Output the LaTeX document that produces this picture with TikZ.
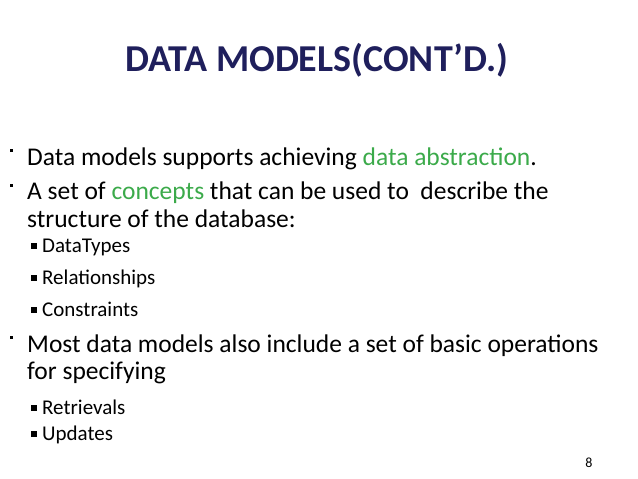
\documentclass[tikz,border=0pt]{standalone}
\usepackage{fontspec}
\setmainfont{Carlito}
\definecolor{titleblue}{HTML}{1F1F5C}
\definecolor{hl}{HTML}{3BAA4A}
\begin{document}
\begin{tikzpicture}[x=1pt,y=-1pt,
  lvone/.style={anchor=base west,inner sep=0pt,font=\fontsize{25.5}{28}\selectfont},
  lvtwo/.style={anchor=base west,inner sep=0pt,font=\fontsize{21}{24}\selectfont},
  bone/.style={fill=black,minimum size=3pt,inner sep=0pt},
  btwo/.style={fill=black,minimum size=6pt,inner sep=0pt}]
\useasboundingbox (0,0) rectangle (638,479);
\node[anchor=base,inner sep=0pt,font=\bfseries\fontsize{38}{42}\selectfont,text=titleblue] (title) at (317,71) {DATA MODELS(CONT’D.)};
\node[bone] (b1) at (11,150) {};
\node[lvone] (t1) at (27,165) {Data models supports achieving \textcolor{hl}{data abstraction}.};
\node[bone] (b2) at (11,185) {};
\node[lvone] (t2) at (27,199) {A set of \textcolor{hl}{concepts} that can be used to\ \ describe the};
\node[lvone] (t3) at (27,227) {structure of the database:};
\node[btwo] (s1) at (34,246) {};
\node[lvtwo] (u1) at (42,252) {DataTypes};
\node[btwo] (s2) at (34,278) {};
\node[lvtwo] (u2) at (42,284) {Relationships};
\node[btwo] (s3) at (34,310) {};
\node[lvtwo] (u3) at (42,316) {Constraints};
\node[bone] (b3) at (11,337) {};
\node[lvone] (t4) at (27,352) {Most data models also include a set of basic operations};
\node[lvone] (t5) at (27,379) {for specifying};
\node[btwo] (s4) at (34,408) {};
\node[lvtwo] (u4) at (42,414) {Retrievals};
\node[btwo] (s5) at (34,434) {};
\node[lvtwo] (u5) at (42,440) {Updates};
\node[anchor=base,inner sep=0pt,font=\fontsize{14}{16}\selectfont] (pg) at (589,467) {8};
\end{tikzpicture}
\end{document}
